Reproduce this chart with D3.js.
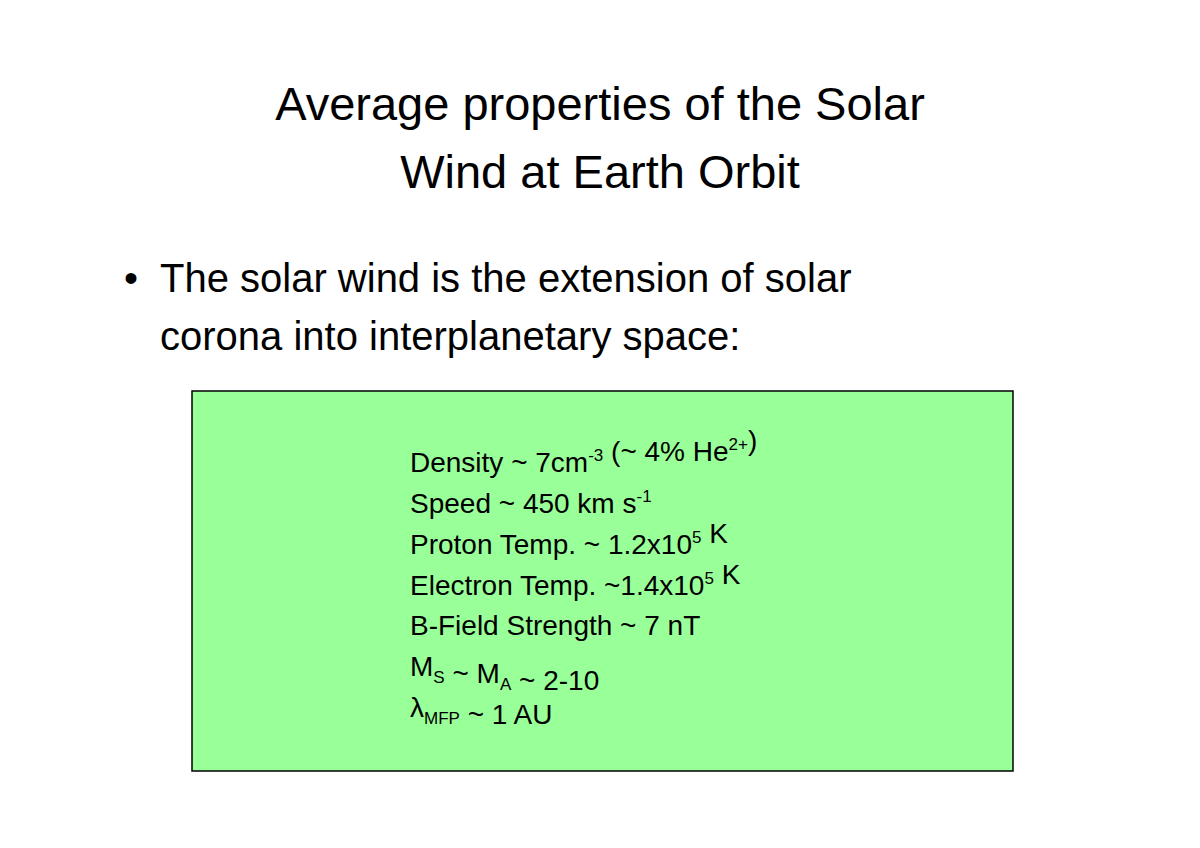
<!DOCTYPE html>
<html><head><meta charset="utf-8">
<script src="https://cdn.jsdelivr.net/npm/d3@7"></script>
<style>body{margin:0;background:#fff}</style>
</head><body><div class="canvas"></div>
<script>
// slide content
const titleLines = ['Average properties of the Solar', 'Wind at Earth Orbit'];
const bulletLines = ['The solar wind is the extension of solar', 'corona into interplanetary space:'];
// each property is a list of [text, kind] where kind is '', 'sup' or 'sub'
const properties = [
  [['Density ~ 7cm', ''], ['-3', 'sup'], [' (~ 4% He', ''], ['2+', 'sup'], [')', '']],
  [['Speed ~ 450 km s', ''], ['-1', 'sup']],
  [['Proton Temp. ~ 1.2x10', ''], ['5', 'sup'], [' K', '']],
  [['Electron Temp. ~1.4x10', ''], ['5', 'sup'], [' K', '']],
  [['B-Field Strength ~ 7 nT', '']],
  [['M', ''], ['S', 'sub'], [' ~ M', ''], ['A', 'sub'], ['  ~ 2-10', '']],
  [['\u03bb', ''], ['MFP', 'sub'], [' ~ 1 AU', '']]
];

const svg = d3.select('.canvas').append('svg')
  .attr('width', 1200).attr('height', 848)
  .style('font-family', '"Liberation Sans", Arial, sans-serif');

// title
svg.selectAll('.title').data(titleLines).enter().append('text')
  .attr('x', 600).attr('y', (d, i) => 120 + i * 68)
  .attr('text-anchor', 'middle').attr('font-size', 47)
  .text(d => d);

// bullet
svg.append('text').attr('x', 124).attr('y', 292).attr('font-size', 40).text('\u2022');
svg.selectAll('.bullet').data(bulletLines).enter().append('text')
  .attr('x', 160).attr('y', (d, i) => 292 + i * 58)
  .attr('font-size', 40).text(d => d);

// green box
svg.append('rect').attr('x', 192).attr('y', 391).attr('width', 821).attr('height', 380)
  .attr('fill', '#99ff99').attr('stroke', '#000').attr('stroke-width', 1.5);

const y = d3.scalePoint().domain(d3.range(properties.length)).range([472, 717]);
const rows = svg.selectAll('.prop').data(properties).enter().append('text')
  .attr('x', 410).attr('y', (d, i) => y(i)).attr('font-size', 28);
rows.each(function(segs) {
  const t = d3.select(this);
  segs.forEach(([s, k]) => {
    const ts = t.append('tspan').text(s);
    if (k === 'sup') ts.attr('font-size', 17).attr('dy', -11);
    if (k === 'sub') ts.attr('font-size', 17).attr('dy', 7);
    // reset baseline after sub/sup
    if (k) t.append('tspan').attr('dy', k === 'sup' ? 11 : -7).text('');
  });
});
</script>
</body></html>
